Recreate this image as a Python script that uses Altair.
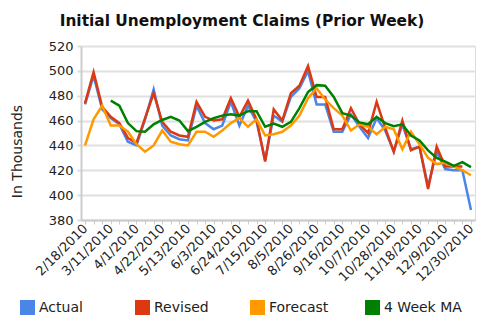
import json
import altair as alt
import pandas as pd

dates = [
    "2/18/2010", "2/25/2010", "3/4/2010", "3/11/2010", "3/18/2010", "3/25/2010",
    "4/1/2010", "4/8/2010", "4/15/2010", "4/22/2010", "4/29/2010", "5/6/2010",
    "5/13/2010", "5/20/2010", "5/27/2010", "6/3/2010", "6/10/2010", "6/17/2010",
    "6/24/2010", "7/1/2010", "7/8/2010", "7/15/2010", "7/22/2010", "7/29/2010",
    "8/5/2010", "8/12/2010", "8/19/2010", "8/26/2010", "9/2/2010", "9/9/2010",
    "9/16/2010", "9/23/2010", "9/30/2010", "10/7/2010", "10/14/2010", "10/21/2010",
    "10/28/2010", "11/4/2010", "11/11/2010", "11/18/2010", "11/25/2010", "12/2/2010",
    "12/9/2010", "12/16/2010", "12/23/2010", "12/30/2010",
]

actual = [473, 496, 469, 462, 457, 443, 440, 461, 485, 456, 448, 445, 444, 472, 458,
          453, 456, 475, 456, 472, 459, 428, 464, 459, 479, 486, 500, 473, 473, 451,
          451, 465, 455, 446, 462, 452, 435, 457, 437, 439, 407, 435, 421, 420, 420, 388]

revised = [474, 499, 471, 463, 458, 446, 442, 462, 482, 459, 451, 448, 447, 475, 463,
           460, 461, 478, 463, 476, 461, 427, 469, 460, 482, 488, 504, 479, 479, 453,
           453, 470, 457, 450, 475, 454, 435, 460, 436, 439, 405, 439, 423, 423, 423]

forecast = [440, 461, 472, 456, 456, 451, 441, 435, 440, 452, 443, 441, 440, 451, 451,
            447, 452, 458, 462, 455, 461, 448, 449, 451, 456, 464, 478, 486, 477, 470,
            464, 452, 457, 455, 449, 455, 453, 437, 451, 441, 430, 425, 426, 423, 420, 416]

ma4_start = 3
ma4 = [476, 472, 458, 451.5, 451, 457, 460.5, 463, 460, 451.5, 455, 459, 462, 464,
       465, 464, 467.5, 467.5, 455, 457.5, 455, 459, 470, 483, 488.5, 488, 479, 466,
       464, 458.5, 457, 463, 458, 455.5, 457, 448, 444, 436, 430, 427, 423.5, 426.5, 422.5]

series_names = ["Actual", "Revised", "Forecast", "4 Week MA"]
series_colors = ["#4a86e8", "#dc3912", "#ff9900", "#008000"]
y_ticks = [380, 400, 420, 440, 460, 480, 500, 520]

rows = []
for name, vals, start in [("Actual", actual, 0), ("Revised", revised, 0),
                          ("Forecast", forecast, 0), ("4 Week MA", ma4, ma4_start)]:
    for k, v in enumerate(vals):
        rows.append({"date": dates[start + k], "series": name, "value": v})
df = pd.DataFrame(rows)

labeled = dates[::3]
label_expr = "indexof(" + json.dumps(labeled) + ", datum.label) >= 0 ? datum.label : ''"

FONT = "DejaVu Sans"

chart = alt.Chart(df).mark_line(strokeWidth=2.5).encode(
    x=alt.X(
        "date:O",
        sort=dates,
        scale=alt.Scale(type="point", padding=0.47),
        axis=alt.Axis(
            title=None, labelAngle=-45, labelAlign="right", labelBaseline="middle",
            labelExpr=label_expr, labelOverlap=False, labelFontSize=13,
            labelFont=FONT, labelColor="#222222", tickSize=4, tickColor="#cccccc",
            tickWidth=1, domainColor="#cccccc", domainWidth=2, grid=False,
            labelPadding=2, labelBound=False, labelFlush=False,
        ),
    ),
    y=alt.Y(
        "value:Q",
        scale=alt.Scale(domain=[380, 520], nice=False, zero=False),
        axis=alt.Axis(
            values=y_ticks, title="In Thousands", titleFont=FONT, titleFontSize=14,
            titleFontWeight="normal", titleColor="#222222", titleAngle=270,
            titleX=-64, titleY=105, titleAlign="center", titleBaseline="middle",
            labelFont=FONT, labelFontSize=13, labelColor="#222222", labelPadding=4,
            tickSize=4, tickColor="#dddddd", tickWidth=2,
            domainColor="#cccccc", domainWidth=2,
            grid=True, gridColor="#e0e0e0", gridWidth=2,
        ),
    ),
    color=alt.Color(
        "series:N",
        sort=series_names,
        scale=alt.Scale(domain=series_names, range=series_colors),
        legend=alt.Legend(
            title=None, orient="none", legendX=-61, legendY=254,
            direction="horizontal", columns=4, gridAlign="all", columnPadding=6,
            symbolType="square", symbolSize=49, symbolStrokeWidth=8,
            labelFont=FONT, labelFontSize=14, labelColor="#222222", labelOffset=4,
            padding=0,
        ),
    ),
).properties(
    width=394,
    height=174,
    title=alt.Title(
        "Initial Unemployment Claims (Prior Week)", font=FONT, fontSize=15.4,
        fontWeight="bold", color="#111111", anchor="middle", dx=-36, offset=0,
        dy=1, baseline="alphabetic",
    ),
    autosize="none",
    padding={"left": 81, "top": 46, "right": 10, "bottom": 116},
).configure_view(
    stroke="#dddddd", strokeWidth=2
).configure(background="white")

chart.save("out.html", embed_options={"renderer": "svg", "actions": False})
